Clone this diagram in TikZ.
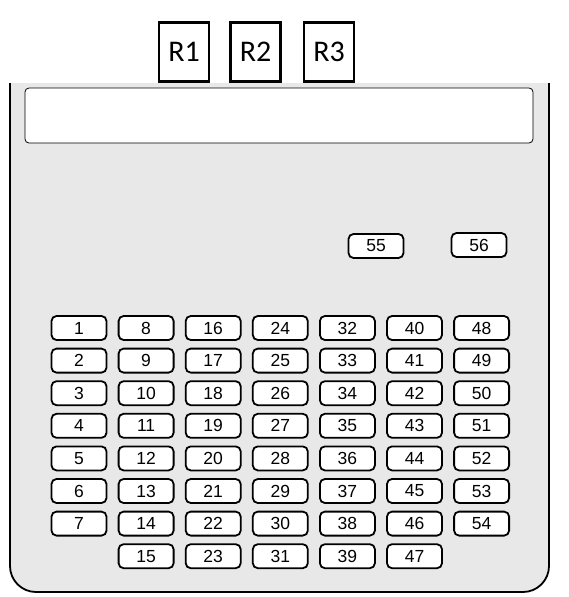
\documentclass[tikz,border=0pt]{standalone}
\usepackage{fontspec}
\setmainfont{Liberation Sans}
\newfontfamily\relfont{Carlito}
\begin{document}
\begin{tikzpicture}[x=1pt,y=-1pt,
  fuse/.style={draw=black,line width=1.8pt,rounded corners=5pt,fill=white,minimum width=55pt,minimum height=24pt,inner sep=0pt,font=\fontsize{17.5}{17.5}\selectfont},
  relay/.style={draw=black,line width=2.6pt,fill=white,minimum width=50pt,minimum height=59pt,inner sep=0pt,font=\relfont\fontsize{30}{30}\selectfont}]
\useasboundingbox (0,0) rectangle (569,597);
% panel
\fill[gray!18,rounded corners=26pt] (10,83) -- (10,592) -- (549,592) -- (549,83) -- cycle;
\fill[gray!18] (10,83) rectangle (549,120);
\draw[line width=1.8pt,rounded corners=26pt] (10,83) -- (10,592) -- (549,592) -- (549,83);
% display
\node[draw=black,line width=0.8pt,rounded corners=4pt,fill=white,minimum width=508pt,minimum height=55pt,inner sep=0pt] (disp) at (279,115.5) {};
% relays
\node[relay,anchor=south] (R1) at (184,83) {R1};
\node[relay,anchor=south] (R2) at (255.5,83) {R2};
\node[relay,anchor=south] (R3) at (329,83) {R3};
% fuses
\foreach \c/\first/\n in {0/1/7,1/8/8,2/16/8,3/24/8,4/32/8,5/40/8,6/48/7}{
  \foreach \r in {1,...,\n}{
    \pgfmathtruncatemacro{\num}{\first+\r-1}
    \node[fuse] (f\num) at ({79+67.1*\c},{328+32.6*(\r-1)}) {\num};
  }
}
\node[fuse] (f55) at (376,246) {55};
\node[fuse] (f56) at (479,245) {56};
\end{tikzpicture}
\end{document}
